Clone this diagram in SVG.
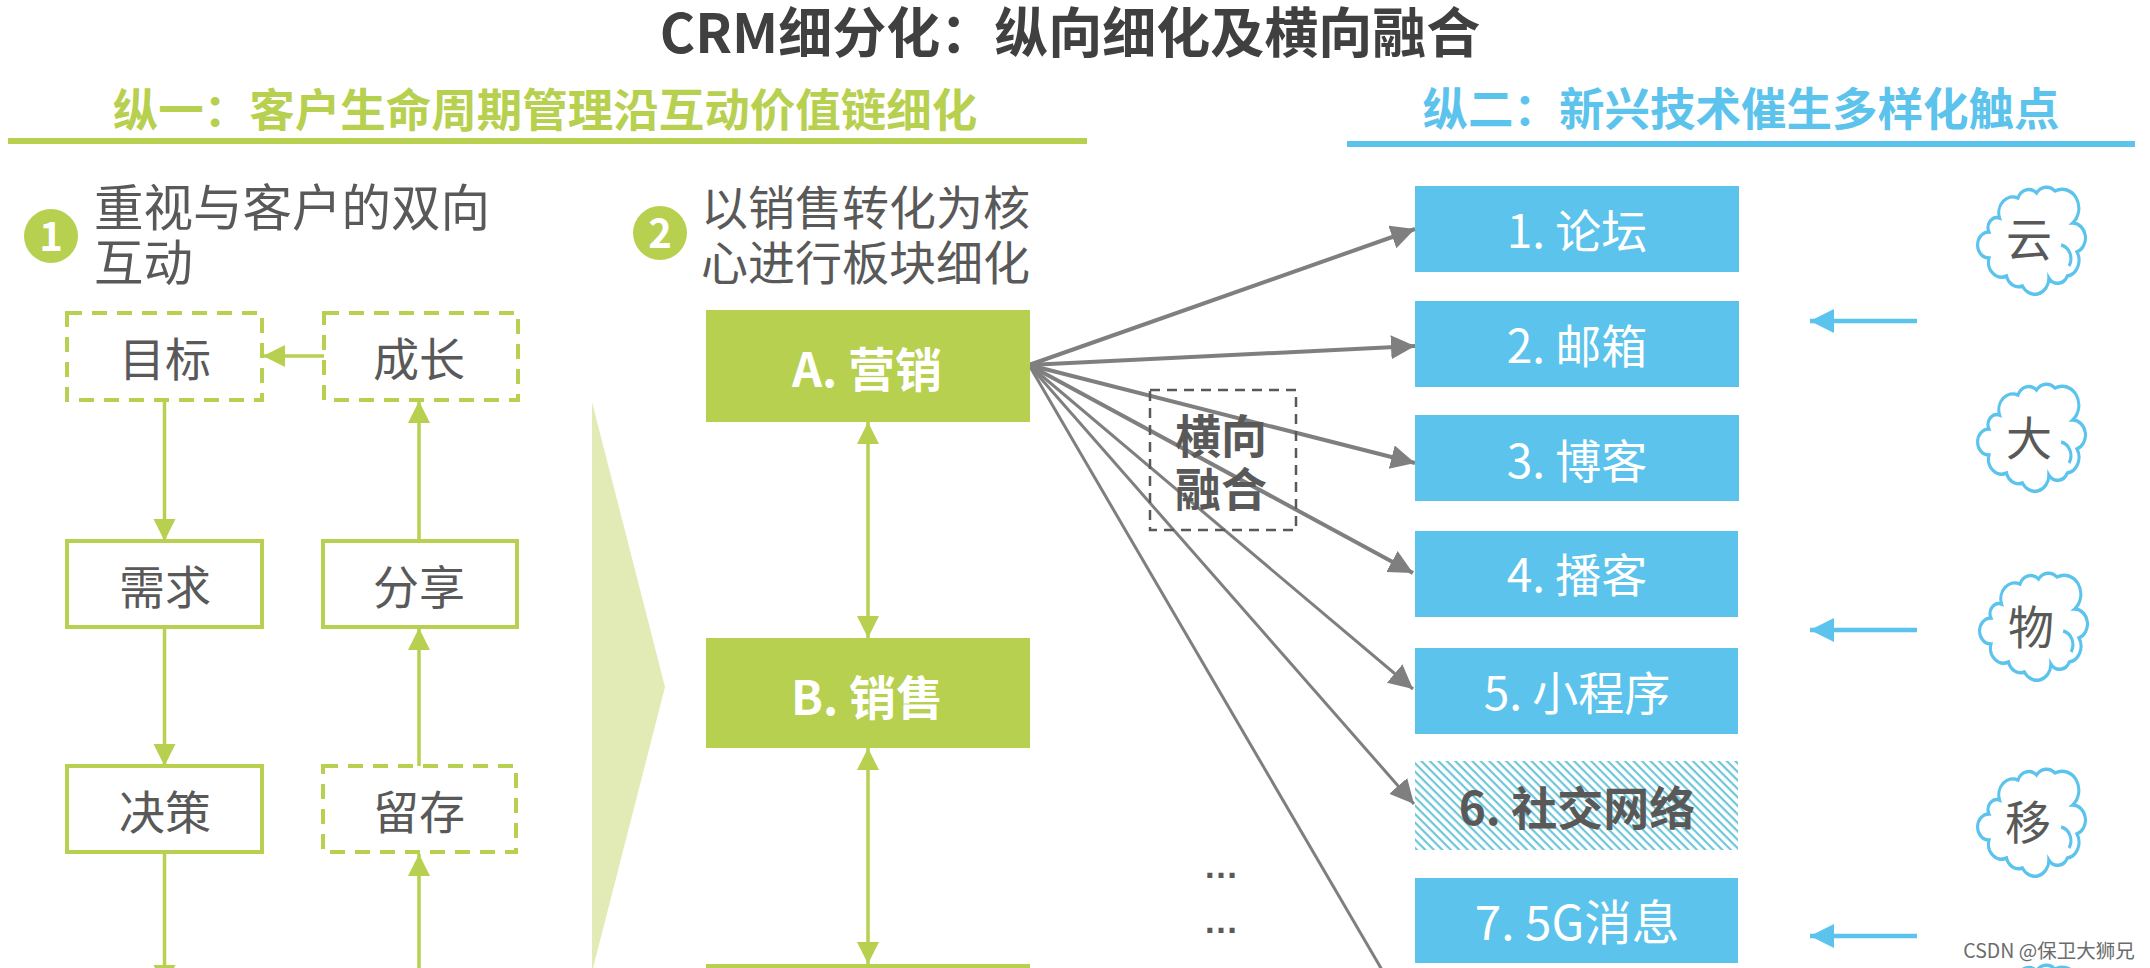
<svg xmlns="http://www.w3.org/2000/svg" width="2150" height="968" viewBox="0 0 2150 968">
<style>
text{font-family:"Noto Sans CJK SC","Noto Sans",sans-serif;text-anchor:middle;dominant-baseline:central;fill:#595959}
.t{font-size:54px;font-weight:700;fill:#404040}
.h{font-size:45.5px;font-weight:700}
.n{font-size:46px}
.w{fill:#fff}
.b{font-weight:700}
.s{font-size:49.500px;text-anchor:start}
.s2{font-size:47px;text-anchor:start}
.d{font-size:40px;font-weight:700;fill:#fff}
.g{fill:none;stroke:#b7d04f;stroke-width:3.5}
.gb{fill:#fff;stroke:#b7d04f;stroke-width:4}
.gd{stroke-dasharray:15 10}
.gf{fill:#b7d04f}
.bf{fill:#5bc3ec}
.a{stroke:#7f7f7f;stroke-width:4;fill:none;marker-end:url(#ga)}
.a2{stroke:#7f7f7f;stroke-width:3;fill:none;marker-end:url(#ga)}
.a3{stroke:#7f7f7f;stroke-width:3;fill:none}
.ba{stroke:#5bc3ec;stroke-width:4.5;fill:none;marker-end:url(#ba)}
.c{fill:#fff;stroke:#5bc3ec;stroke-width:3.5}
.cl{fill:none;stroke:#5bc3ec;stroke-width:3.5}
</style>
<defs>
<marker id="gm" markerUnits="userSpaceOnUse" markerWidth="24" markerHeight="24" refX="22" refY="11" orient="auto"><path d="M0 0L22 11L0 22Z" fill="#b7d04f"/></marker>
<marker id="gs" markerUnits="userSpaceOnUse" markerWidth="24" markerHeight="24" refX="0" refY="11" orient="auto"><path d="M22 0L0 11L22 22Z" fill="#b7d04f"/></marker>
<marker id="ga" markerUnits="userSpaceOnUse" markerWidth="26" markerHeight="26" refX="24" refY="12" orient="auto"><path d="M0 0L24 12L0 24Z" fill="#7f7f7f"/></marker>
<marker id="ba" markerUnits="userSpaceOnUse" markerWidth="26" markerHeight="26" refX="24" refY="12" orient="auto"><path d="M0 0L24 12L0 24Z" fill="#5bc3ec"/></marker>
<pattern id="hatch" width="6" height="6" patternUnits="userSpaceOnUse" patternTransform="rotate(45)"><rect width="6" height="6" fill="#fff"/><rect width="6" height="2.200" fill="#6fc6d8"/></pattern>
<g id="cloud"><g transform="scale(.88,1)"><path class="c" d="M-38 -22A16 16 0 0 1 -17 -42A13 13 0 0 1 4 -47A14 14 0 0 1 25 -49A19 19 0 0 1 45 -17A15 15 0 0 1 50 12A16 16 0 0 1 39 36A12 12 0 0 1 18 38A16 16 0 0 1 -12 46A14 14 0 0 1 -30 36A15 15 0 0 1 -50 18A13 13 0 0 1 -50 -8A10 10 0 0 1 -38 -22Z"/><path class="cl" d="M32 5A14 14 0 0 1 41 26"/></g></g>
</defs>
<rect width="2150" height="968" fill="#fff"/>
<path id="chevron" d="M592 402L665 687L592 972Z" fill="#e2ebb5"/>
<text class="t" x="1070" y="29">CRM细分化&#xFF1A;纵向细化及横向融合</text>
<text class="h" x="545" y="107" style="fill:#b7d04f">纵一&#xFF1A;客户生命周期管理沿互动价值链细化</text>
<text class="h" x="1741" y="106" style="fill:#5bc3ec">纵二&#xFF1A;新兴技术催生多样化触点</text>
<rect x="8" y="138" width="1079" height="6" class="gf"/>
<rect x="1347" y="141" width="788" height="6" class="bf"/>
<g id="head1"><circle cx="51" cy="236" r="27" class="gf"/><text class="d" x="51" y="234">1</text><text class="s" x="94" y="204">重视与客户的双向</text><text class="s" x="94" y="259">互动</text></g>
<g id="head2"><circle cx="660" cy="233" r="27" class="gf"/><text class="d" x="660" y="231">2</text><text class="s2" x="701" y="204">以销售转化为核</text><text class="s2" x="701" y="259">心进行板块细化</text></g>
<g id="connectors">
<path class="g" d="M324 356H263" marker-end="url(#gm)"/>
<path class="g" d="M164.500 400V541" marker-end="url(#gm)"/>
<path class="g" d="M164.500 627V766" marker-end="url(#gm)"/>
<path class="g" d="M164.500 852V987" marker-end="url(#gm)"/>
<path class="g" d="M419 541V401" marker-end="url(#gm)"/>
<path class="g" d="M419 766V628" marker-end="url(#gm)"/>
<path class="g" d="M419 990V854" marker-end="url(#gm)"/>
<path class="g" d="M868 422V638" marker-start="url(#gs)" marker-end="url(#gm)"/>
<path class="g" d="M868 748V964" marker-start="url(#gs)" marker-end="url(#gm)"/>
<path class="a" d="M1029 365L1415 229"/>
<path class="a" d="M1029 365L1415 346"/>
<path class="a" d="M1029 365L1415 463"/>
<path class="a" d="M1029 365L1413 573"/>
<path class="a2" d="M1029 365L1413 689"/>
<path class="a2" d="M1029 365L1414 804"/>
<path class="a3" d="M1029 365L1385 975"/>
<path class="ba" d="M1917 321H1810"/>
<path class="ba" d="M1917 630H1810"/>
<path class="ba" d="M1917 936H1810"/>
</g>
<g id="n-mubiao"><rect class="gb gd" x="67" y="313" width="195" height="87"/><text class="n" x="165" y="356">目标</text></g>
<g id="n-chengzhang"><rect class="gb gd" x="324" y="313" width="194" height="87"/><text class="n" x="419" y="356">成长</text></g>
<g id="n-xuqiu"><rect class="gb" x="67" y="541" width="195" height="86"/><text class="n" x="165" y="584">需求</text></g>
<g id="n-fenxiang"><rect class="gb" x="323" y="541" width="194" height="86"/><text class="n" x="419" y="584">分享</text></g>
<g id="n-juece"><rect class="gb" x="67" y="766" width="195" height="86"/><text class="n" x="165" y="809">决策</text></g>
<g id="n-liucun"><rect class="gb gd" x="323" y="766" width="193" height="86"/><text class="n" x="419" y="809">留存</text></g>
<g id="n-a"><rect class="gf" x="706" y="310" width="324" height="112"/><text class="n w b" x="867" y="366" style="font-size:47px">A. 营销</text></g>
<g id="n-b"><rect class="gf" x="706" y="638" width="324" height="110"/><text class="n w b" x="867" y="694" style="font-size:47px">B. 销售</text></g>
<g id="n-c"><rect class="gf" x="706" y="964" width="324" height="10"/></g>
<g id="n-1"><rect class="bf" x="1415" y="186" width="324" height="86"/><text class="n w" x="1577" y="228">1. 论坛</text></g>
<g id="n-2"><rect class="bf" x="1415" y="301" width="324" height="86"/><text class="n w" x="1577" y="343">2. 邮箱</text></g>
<g id="n-3"><rect class="bf" x="1415" y="415" width="324" height="86"/><text class="n w" x="1577" y="458">3. 博客</text></g>
<g id="n-4"><rect class="bf" x="1415" y="531" width="323" height="86"/><text class="n w" x="1577" y="572">4. 播客</text></g>
<g id="n-5"><rect class="bf" x="1415" y="648" width="323" height="86"/><text class="n w" x="1577" y="690">5. 小程序</text></g>
<g id="n-6"><rect x="1415" y="761" width="323" height="89" fill="url(#hatch)"/><text class="n b" x="1577" y="805">6. 社交网络</text></g>
<g id="n-7"><rect class="bf" x="1415" y="878" width="323" height="85"/><text class="n w" x="1577" y="919" style="font-size:47.500px">7. 5G消息</text></g>
<g id="merge"><rect x="1150" y="390" width="146" height="140" fill="none" stroke="#595959" stroke-width="2.500" stroke-dasharray="10 7"/><text class="n b" x="1221" y="433">横向</text><text class="n b" x="1221" y="486">融合</text></g>
<text class="b" x="1221" y="865" font-size="35" style="font-family:'Liberation Sans',sans-serif">…</text>
<text class="b" x="1221" y="920" font-size="35" style="font-family:'Liberation Sans',sans-serif">…</text>
<g id="c-yun"><use href="#cloud" x="2033" y="240"/><text class="n" x="2029" y="236">云</text></g>
<g id="c-da"><use href="#cloud" x="2033" y="437"/><text class="n" x="2029" y="435">大</text></g>
<g id="c-wu"><use href="#cloud" x="2035" y="626"/><text class="n" x="2031" y="624">物</text></g>
<g id="c-yi"><use href="#cloud" x="2033" y="822"/><text class="n" x="2028" y="819">移</text></g>
<g id="c-next"><use href="#cloud" x="2033" y="1018"/></g>
<text x="2049" y="949" font-size="19.500" style="fill:#6b6b6b">CSDN @保卫大狮兄</text>
</svg>
